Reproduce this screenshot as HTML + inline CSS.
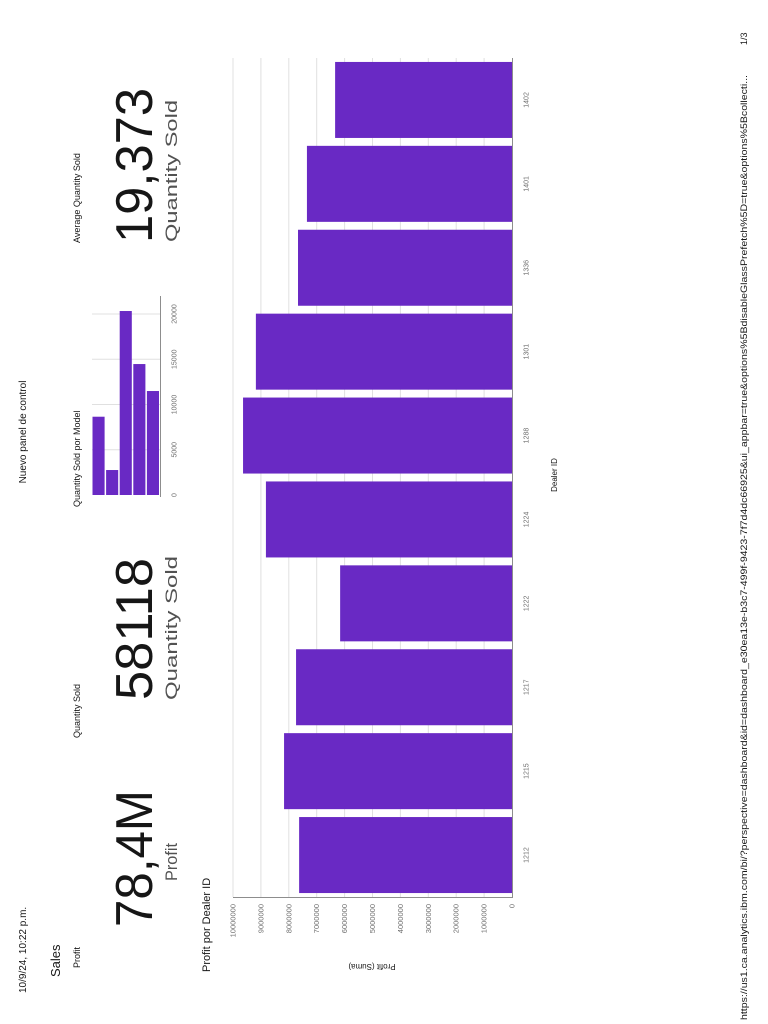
<!DOCTYPE html>
<html><head><meta charset="utf-8"><style>
html,body{margin:0;padding:0;background:#fff;}
svg{display:block;font-family:"Liberation Sans",sans-serif;}
</style></head><body>
<svg id="root" width="768" height="1024" viewBox="0 0 768 1024" xmlns="http://www.w3.org/2000/svg">
<g fill="#161616">
<text transform="translate(26,993) rotate(-90)" font-size="10">10/9/24, 10:22 p.m.</text>
<text transform="translate(26,432) rotate(-90)" font-size="10" text-anchor="middle">Nuevo panel de control</text>
<text transform="translate(747,1020) rotate(-90)" font-size="9" textLength="945" lengthAdjust="spacingAndGlyphs">https://us1.ca.analytics.ibm.com/bi/?perspective=dashboard&amp;id=dashboard_e30ea13e-b3c7-499f-9423-7f7d4dc66925&amp;ui_appbar=true&amp;options%5BdisableGlassPrefetch%5D=true&amp;options%5Bcollecti...</text>
<text transform="translate(747,45) rotate(-90)" font-size="9">1/3</text>
<text transform="translate(60,977) rotate(-90)" font-size="13">Sales</text>
<text transform="translate(80,968) rotate(-90)" font-size="9">Profit</text>
<text transform="translate(80,738) rotate(-90)" font-size="9">Quantity Sold</text>
<text transform="translate(80,507) rotate(-90)" font-size="9">Quantity Sold por Model</text>
<text transform="translate(80,243) rotate(-90)" font-size="9">Average Quantity Sold</text>
<text transform="translate(152,927) rotate(-90)" font-size="52" textLength="137" lengthAdjust="spacingAndGlyphs">78,4M</text>
<text transform="translate(177,881) rotate(-90)" font-size="17" fill="#525252" textLength="38" lengthAdjust="spacingAndGlyphs">Profit</text>
<text transform="translate(152,700) rotate(-90)" font-size="52" textLength="142" lengthAdjust="spacingAndGlyphs">58118</text>
<text transform="translate(177,700) rotate(-90)" font-size="17" fill="#525252" textLength="144" lengthAdjust="spacingAndGlyphs">Quantity Sold</text>
<text transform="translate(152,243) rotate(-90)" font-size="52" textLength="155" lengthAdjust="spacingAndGlyphs">19,373</text>
<text transform="translate(177,242) rotate(-90)" font-size="17" fill="#525252" textLength="142" lengthAdjust="spacingAndGlyphs">Quantity Sold</text>
<text transform="translate(210,972) rotate(-90)" font-size="11">Profit por Dealer ID</text>
<text transform="translate(557,475) rotate(-90)" font-size="8" text-anchor="middle">Dealer ID</text>
<text transform="translate(372,964) rotate(180)" font-size="8" text-anchor="middle">Profit (Suma)</text>
</g>
<g id="small"></g>
<g id="main"></g>
</svg>
<script>
const modelCats = ['m1','m2','m3','m4','m5'];
const modelValues = [8650, 2760, 20330, 14470, 11490];
const modelTicks = [0, 5000, 10000, 15000, 20000];
const dealerCats = ['1212','1215','1217','1222','1224','1288','1301','1336','1401','1402'];
const dealerValues = [7630000, 8170000, 7740000, 6160000, 8820000, 9640000, 9180000, 7670000, 7350000, 6340000];
const dealerTicks = [0,1000000,2000000,3000000,4000000,5000000,6000000,7000000,8000000,9000000,10000000];
const NS='http://www.w3.org/2000/svg';
function mk(p,t,a){const e=document.createElementNS(NS,t);for(const k in a)e.setAttribute(k,a[k]);p.appendChild(e);return e;}
const sg=document.getElementById('small');
const sy=v=>495-v*(181/20000);
const sx0=92, sstep=13.6;
modelTicks.forEach(t=>{
  if(t>0){const l=mk(sg,'line',{x1:92,x2:160,y1:sy(t),y2:sy(t),stroke:'#e0e0e0','stroke-width':1});
  
  }
  const tx=mk(sg,'text',{transform:`translate(175,${sy(t)}) rotate(-90)`,'font-size':7,fill:'#6f6f6f','text-anchor':'middle','dominant-baseline':'central'});
  tx.textContent=t;
  
  
});
modelValues.forEach((v,i)=>{
  const r=mk(sg,'rect',{x:sx0+i*sstep+0.5,y:sy(v),width:sstep-1.5,height:495-sy(v),fill:'#6929c4'});
  
  
});
const sa=mk(sg,'line',{x1:160.5,x2:160.5,y1:296,y2:497,stroke:'#8d8d8d','stroke-width':1});


const mg=document.getElementById('main');
const mx=v=>512-v*(279/10000000);
const my0=897, mstep=83.9;
dealerTicks.forEach(t=>{
  if(t>0){const l=mk(mg,'line',{x1:mx(t),x2:mx(t),y1:58,y2:897,stroke:'#e0e0e0','stroke-width':1});
  
  }
  const tx=mk(mg,'text',{transform:`translate(${mx(t)},904) rotate(-90)`,'font-size':7.5,fill:'#6f6f6f','text-anchor':'end','dominant-baseline':'central'});
  tx.textContent=t;
  
  
});
dealerValues.forEach((v,i)=>{
  const c=my0-(i+0.5)*mstep;
  const r=mk(mg,'rect',{x:mx(v),y:c-38,width:512-mx(v),height:76,fill:'#6929c4'});
  
  
  const tx=mk(mg,'text',{transform:`translate(527,${c}) rotate(-90)`,'font-size':7,fill:'#6f6f6f','text-anchor':'middle','dominant-baseline':'central'});
  tx.textContent=dealerCats[i];
  
  
});
const a1=mk(mg,'line',{x1:512.5,x2:512.5,y1:58,y2:898,stroke:'#8d8d8d','stroke-width':1});


const a2=mk(mg,'line',{x1:233,x2:513,y1:897.5,y2:897.5,stroke:'#8d8d8d','stroke-width':1});


</script>
</body></html>
